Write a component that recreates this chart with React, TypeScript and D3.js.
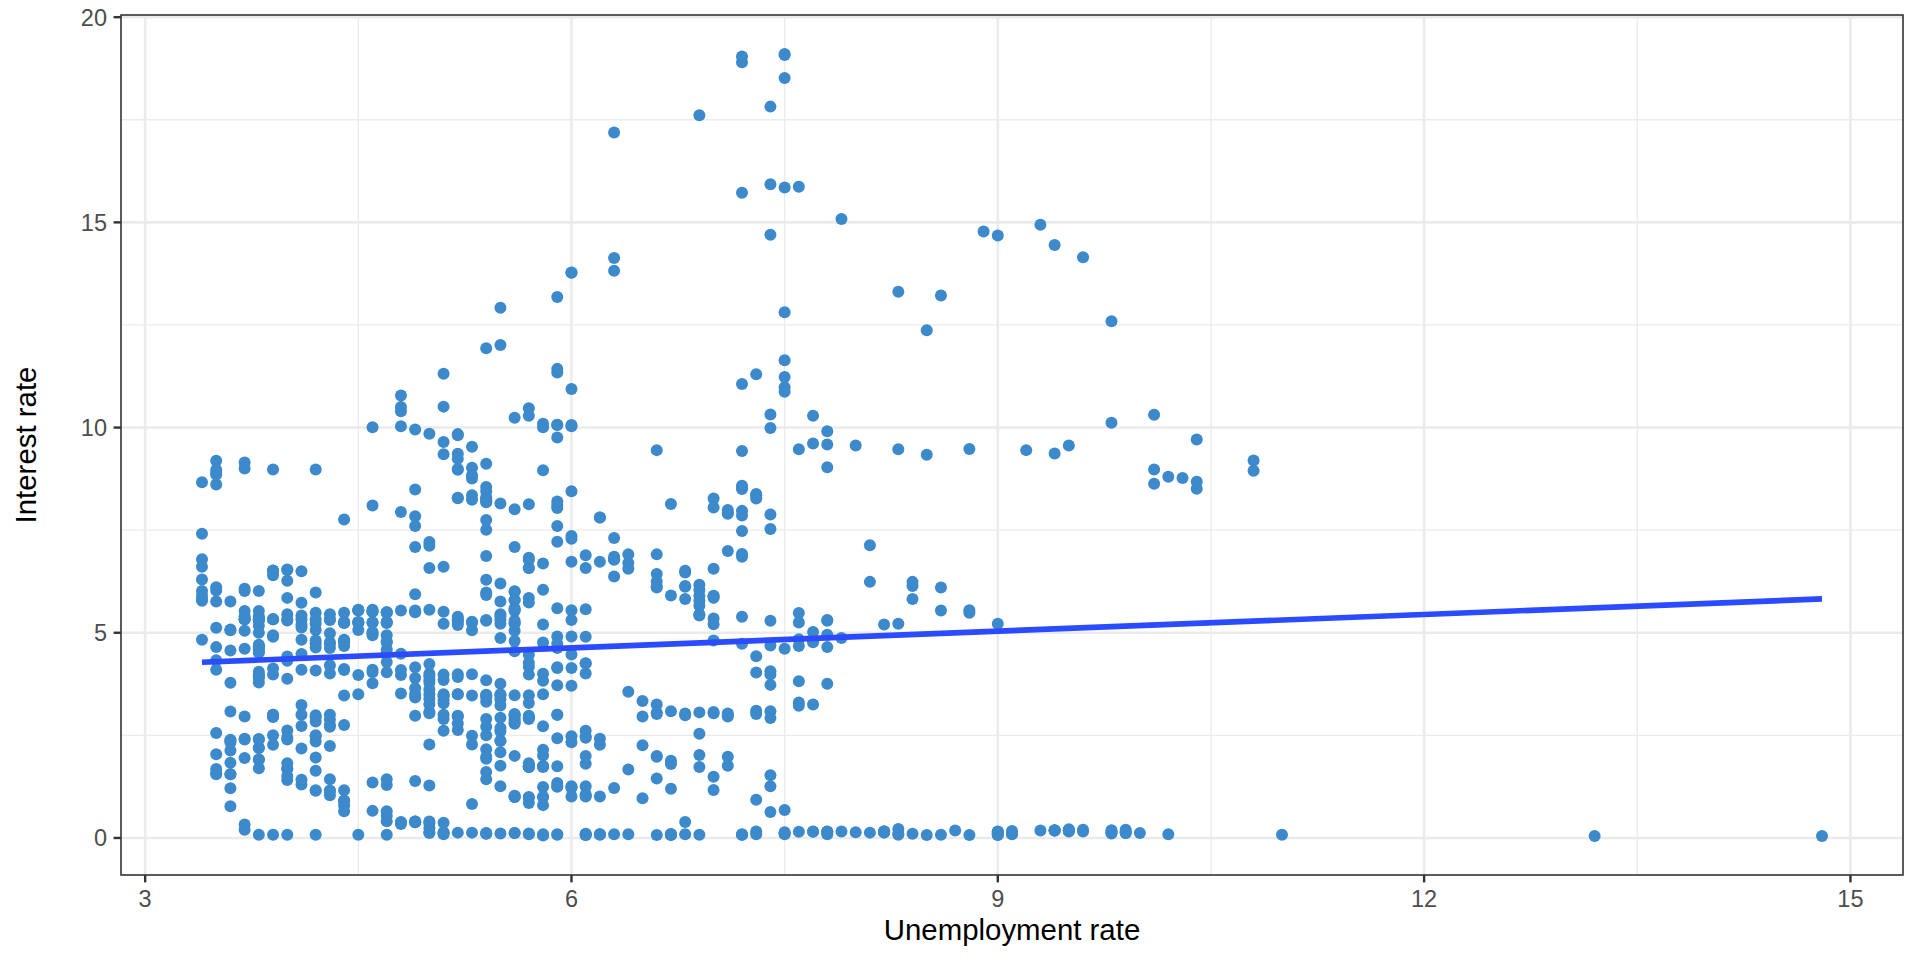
import React from 'react';
import * as d3 from 'd3';

// monthly readings, Jul 1954 onwards (one row per year)
const unemploymentRate = [
  5.8, 6.0, 6.1, 5.7, 5.3, 5.0,
  4.9, 4.7, 4.6, 4.7, 4.3, 4.2, 4.0, 4.2, 4.1, 4.3, 4.2, 4.2,
  4.0, 3.9, 4.2, 4.0, 4.3, 4.3, 4.4, 4.1, 3.9, 3.9, 4.3, 4.2,
  4.2, 3.9, 3.7, 3.9, 4.1, 4.3, 4.2, 4.1, 4.4, 4.5, 5.1, 5.2,
  5.8, 6.4, 6.7, 7.4, 7.4, 7.3, 7.5, 7.4, 7.1, 6.7, 6.2, 6.2,
  6.0, 5.9, 5.6, 5.2, 5.1, 5.0, 5.1, 5.2, 5.5, 5.7, 5.8, 5.3,
  5.2, 4.8, 5.4, 5.2, 5.1, 5.4, 5.5, 5.6, 5.5, 6.1, 6.1, 6.6,
  6.6, 6.9, 6.9, 7.0, 7.1, 6.9, 7.0, 6.6, 6.7, 6.5, 6.1, 6.0,
  5.8, 5.5, 5.6, 5.6, 5.5, 5.5, 5.4, 5.7, 5.6, 5.4, 5.7, 5.5,
  5.7, 5.9, 5.7, 5.7, 5.9, 5.6, 5.6, 5.4, 5.5, 5.5, 5.7, 5.5,
  5.6, 5.4, 5.4, 5.3, 5.1, 5.2, 4.9, 5.0, 5.1, 5.1, 4.8, 5.0,
  4.9, 5.1, 4.7, 4.8, 4.6, 4.6, 4.4, 4.4, 4.3, 4.2, 4.1, 4.0,
  4.0, 3.8, 3.8, 3.8, 3.9, 3.8, 3.8, 3.8, 3.7, 3.7, 3.6, 3.8,
  3.9, 3.8, 3.8, 3.8, 3.8, 3.9, 3.8, 3.8, 3.8, 4.0, 3.9, 3.8,
  3.7, 3.8, 3.7, 3.5, 3.5, 3.7, 3.7, 3.5, 3.4, 3.4, 3.4, 3.4,
  3.4, 3.4, 3.4, 3.4, 3.4, 3.5, 3.5, 3.5, 3.7, 3.7, 3.5, 3.5,
  3.9, 4.2, 4.4, 4.6, 4.8, 4.9, 5.0, 5.1, 5.4, 5.5, 5.9, 6.1,
  5.9, 5.9, 6.0, 5.9, 5.9, 5.9, 6.0, 6.1, 6.0, 5.8, 6.0, 6.0,
  5.8, 5.7, 5.8, 5.7, 5.7, 5.7, 5.6, 5.6, 5.5, 5.6, 5.3, 5.2,
  4.9, 5.0, 4.9, 5.0, 4.9, 4.9, 4.8, 4.8, 4.8, 4.6, 4.8, 4.9,
  5.1, 5.2, 5.1, 5.1, 5.1, 5.4, 5.5, 5.5, 5.9, 6.0, 6.6, 7.2,
  8.1, 8.1, 8.6, 8.8, 9.0, 8.8, 8.6, 8.4, 8.4, 8.4, 8.3, 8.2,
  7.9, 7.7, 7.6, 7.7, 7.4, 7.6, 7.8, 7.8, 7.6, 7.7, 7.8, 7.8,
  7.5, 7.6, 7.4, 7.2, 7.0, 7.2, 6.9, 7.0, 6.8, 6.8, 6.8, 6.4,
  6.4, 6.3, 6.3, 6.1, 6.0, 5.9, 6.2, 5.9, 6.0, 5.8, 5.9, 6.0,
  5.9, 5.9, 5.8, 5.8, 5.6, 5.7, 5.7, 6.0, 5.9, 6.0, 5.9, 6.0,
  6.3, 6.3, 6.3, 6.9, 7.5, 7.6, 7.8, 7.7, 7.5, 7.5, 7.5, 7.2,
  7.5, 7.4, 7.4, 7.2, 7.5, 7.5, 7.2, 7.4, 7.6, 7.9, 8.3, 8.5,
  8.6, 8.9, 9.0, 9.3, 9.4, 9.6, 9.8, 9.8, 10.1, 10.4, 10.8, 10.8,
  10.4, 10.4, 10.3, 10.2, 10.1, 10.1, 9.4, 9.5, 9.2, 8.8, 8.5, 8.3,
  8.0, 7.8, 7.8, 7.7, 7.4, 7.2, 7.5, 7.5, 7.3, 7.4, 7.2, 7.3,
  7.3, 7.2, 7.2, 7.3, 7.2, 7.4, 7.4, 7.1, 7.1, 7.1, 7.0, 7.0,
  6.7, 7.2, 7.2, 7.1, 7.2, 7.2, 7.0, 6.9, 7.0, 7.0, 6.9, 6.6,
  6.6, 6.6, 6.6, 6.3, 6.3, 6.2, 6.1, 6.0, 5.9, 6.0, 5.8, 5.7,
  5.7, 5.7, 5.7, 5.4, 5.6, 5.4, 5.4, 5.6, 5.4, 5.4, 5.3, 5.3,
  5.4, 5.2, 5.0, 5.2, 5.2, 5.3, 5.2, 5.2, 5.3, 5.3, 5.4, 5.4,
  5.4, 5.3, 5.2, 5.4, 5.4, 5.2, 5.5, 5.7, 5.9, 5.9, 6.2, 6.3,
  6.4, 6.6, 6.8, 6.7, 6.9, 6.9, 6.8, 6.9, 6.9, 7.0, 7.0, 7.3,
  7.3, 7.4, 7.4, 7.4, 7.6, 7.8, 7.7, 7.6, 7.6, 7.3, 7.4, 7.4,
  7.3, 7.1, 7.0, 7.1, 7.1, 7.0, 6.9, 6.8, 6.7, 6.8, 6.6, 6.5,
  6.6, 6.6, 6.5, 6.4, 6.1, 6.1, 6.1, 6.0, 5.9, 5.8, 5.6, 5.5,
  5.6, 5.4, 5.4, 5.8, 5.6, 5.6, 5.7, 5.7, 5.6, 5.5, 5.6, 5.6,
  5.6, 5.5, 5.5, 5.6, 5.6, 5.3, 5.5, 5.1, 5.2, 5.2, 5.4, 5.4,
  5.3, 5.2, 5.2, 5.1, 4.9, 5.0, 4.9, 4.8, 4.9, 4.7, 4.6, 4.7,
  4.6, 4.6, 4.7, 4.3, 4.4, 4.5, 4.5, 4.5, 4.6, 4.5, 4.4, 4.4,
  4.3, 4.4, 4.2, 4.3, 4.2, 4.3, 4.3, 4.2, 4.2, 4.1, 4.1, 4.0,
  4.0, 4.1, 4.0, 3.8, 4.0, 4.0, 4.0, 4.1, 3.9, 3.9, 3.9, 3.9,
  4.2, 4.2, 4.3, 4.4, 4.3, 4.5, 4.6, 4.9, 5.0, 5.3, 5.5, 5.7,
  5.7, 5.7, 5.7, 5.9, 5.8, 5.8, 5.8, 5.7, 5.7, 5.7, 5.9, 6.0,
  5.8, 5.9, 5.9, 6.0, 6.1, 6.3, 6.2, 6.1, 6.1, 6.0, 5.8, 5.7,
  5.7, 5.6, 5.8, 5.6, 5.6, 5.6, 5.5, 5.4, 5.4, 5.5, 5.4, 5.4,
  5.3, 5.4, 5.2, 5.2, 5.1, 5.0, 5.0, 4.9, 5.0, 5.0, 5.0, 4.9,
  4.7, 4.8, 4.7, 4.7, 4.6, 4.6, 4.7, 4.7, 4.5, 4.4, 4.5, 4.4,
  4.6, 4.5, 4.4, 4.5, 4.4, 4.6, 4.7, 4.6, 4.7, 4.7, 4.7, 5.0,
  5.0, 4.9, 5.1, 5.0, 5.4, 5.6, 5.8, 6.1, 6.1, 6.5, 6.8, 7.3,
  7.8, 8.3, 8.7, 9.0, 9.4, 9.5, 9.5, 9.6, 9.8, 10.0, 9.9, 9.9,
  9.8, 9.8, 9.9, 9.9, 9.6, 9.4, 9.4, 9.5, 9.5, 9.4, 9.8, 9.3,
  9.1, 9.0, 9.0, 9.1, 9.0, 9.1, 9.0, 9.0, 9.0, 8.8, 8.6, 8.5,
  8.3, 8.3, 8.2, 8.2, 8.2, 8.2, 8.2, 8.1, 7.8, 7.8, 7.7, 7.9,
  8.0, 7.7, 7.5, 7.6, 7.5, 7.5, 7.3, 7.2, 7.2, 7.2, 6.9, 6.7,
  6.6, 6.7, 6.7, 6.2, 6.3, 6.1, 6.2, 6.1, 5.9, 5.7, 5.8, 5.6,
  5.7, 5.5, 5.4, 5.4, 5.6, 5.3, 5.2, 5.1, 5.0, 5.0, 5.1, 5.0,
  4.8, 4.9, 5.0, 5.1, 4.8, 4.9, 4.8, 4.9, 5.0, 4.9, 4.7, 4.7,
  4.7, 4.6, 4.4, 4.4, 4.4, 4.3, 4.3, 4.4, 4.3, 4.2, 4.2, 4.1,
  4.0, 4.1, 4.0, 4.0, 3.8, 4.0, 3.8, 3.8, 3.7, 3.8, 3.8, 3.9,
  4.0, 3.8, 3.8, 3.7, 3.6, 3.6, 3.7, 3.6, 3.5, 3.6, 3.6, 3.6,
  3.5, 3.5, 4.4, 14.8, 13.2, 11.0, 10.2, 8.4, 7.8, 6.8, 6.7, 6.7,
  6.4, 6.2, 6.1, 6.1, 5.8, 5.9, 5.4, 5.1, 4.7, 4.5, 4.2, 3.9,
  4.0, 3.8, 3.7, 3.7, 3.6, 3.6, 3.5, 3.6, 3.5, 3.6, 3.6, 3.5,
  3.5, 3.6, 3.5, 3.4, 3.6, 3.6, 3.5, 3.8, 3.8, 3.8, 3.7, 3.7,
  3.7, 3.9, 3.9, 3.9, 4.0, 4.1, 4.3, 4.2, 4.1, 4.1, 4.2, 4.1,
];

const interestRate = [
  0.80, 1.22, 1.06, 0.85, 0.83, 1.28,
  1.39, 1.29, 1.35, 1.43, 1.43, 1.64, 1.68, 1.96, 2.18, 2.24, 2.35, 2.48,
  2.45, 2.50, 2.50, 2.62, 2.75, 2.71, 2.75, 2.73, 2.95, 2.96, 2.88, 2.94,
  2.84, 3.00, 2.96, 3.00, 3.00, 3.00, 2.99, 3.24, 3.47, 3.50, 3.28, 2.98,
  2.72, 1.67, 1.20, 1.26, 0.63, 0.93, 0.68, 1.53, 1.76, 1.80, 2.27, 2.42,
  2.48, 2.43, 2.80, 2.96, 2.90, 3.39, 3.47, 3.50, 3.76, 3.98, 4.00, 3.99,
  3.99, 3.97, 3.84, 3.92, 3.85, 3.32, 3.23, 2.98, 2.60, 2.47, 2.44, 1.98,
  1.45, 2.54, 2.02, 1.49, 1.98, 1.73, 1.17, 2.00, 1.88, 2.26, 2.61, 2.33,
  2.15, 2.37, 2.85, 2.78, 2.36, 2.68, 2.71, 2.93, 2.90, 2.90, 2.94, 2.93,
  2.92, 3.00, 2.98, 2.90, 3.00, 2.99, 3.02, 3.49, 3.48, 3.50, 3.48, 3.38,
  3.48, 3.48, 3.43, 3.47, 3.50, 3.50, 3.42, 3.50, 3.45, 3.36, 3.52, 3.85,
  3.90, 3.98, 4.04, 4.09, 4.10, 4.04, 4.09, 4.12, 4.01, 4.08, 4.10, 4.32,
  4.42, 4.60, 4.65, 4.67, 4.90, 5.17, 5.30, 5.53, 5.40, 5.53, 5.76, 5.40,
  4.94, 5.00, 4.53, 4.05, 3.94, 3.98, 3.79, 3.90, 3.99, 3.88, 4.13, 4.51,
  4.61, 4.71, 5.05, 5.76, 6.11, 6.07, 6.02, 6.03, 5.78, 5.91, 5.82, 6.02,
  6.30, 6.61, 6.79, 7.41, 8.67, 8.90, 8.61, 9.19, 9.15, 9.00, 8.85, 8.97,
  8.98, 8.98, 7.76, 8.10, 7.94, 7.60, 7.21, 6.61, 6.29, 6.20, 5.60, 4.90,
  4.14, 3.72, 3.71, 4.16, 4.63, 4.91, 5.31, 5.57, 5.55, 5.20, 4.91, 4.14,
  3.50, 3.29, 3.83, 4.17, 4.27, 4.46, 4.55, 4.80, 4.87, 5.05, 5.06, 5.33,
  5.94, 6.58, 7.09, 7.12, 7.84, 8.49, 10.40, 10.50, 10.78, 10.01, 10.03, 9.95,
  9.65, 8.97, 9.35, 10.51, 11.31, 11.93, 12.92, 12.01, 11.34, 10.06, 9.45, 8.53,
  7.13, 6.24, 5.54, 5.49, 5.22, 5.55, 6.10, 6.14, 6.24, 5.82, 5.22, 5.20,
  4.87, 4.77, 4.84, 4.82, 5.29, 5.48, 5.31, 5.29, 5.25, 5.02, 4.95, 4.65,
  4.61, 4.68, 4.69, 4.73, 5.35, 5.39, 5.42, 5.90, 6.14, 6.47, 6.51, 6.56,
  6.70, 6.78, 6.79, 6.89, 7.36, 7.60, 7.81, 8.04, 8.45, 8.96, 9.76, 10.03,
  10.07, 10.06, 10.09, 10.01, 10.24, 10.29, 10.47, 10.94, 11.43, 13.77, 13.18, 13.78,
  13.82, 14.13, 17.19, 17.61, 10.98, 9.47, 9.03, 9.61, 10.87, 12.81, 15.85, 18.90,
  19.08, 15.93, 14.70, 15.72, 18.52, 19.10, 19.04, 17.82, 15.87, 15.08, 13.31, 12.37,
  13.22, 14.78, 14.68, 14.94, 14.45, 14.15, 12.59, 10.12, 10.31, 9.71, 9.20, 8.95,
  8.68, 8.51, 8.77, 8.80, 8.63, 8.98, 9.37, 9.56, 9.45, 9.48, 9.34, 9.47,
  9.56, 9.59, 9.91, 10.29, 10.32, 11.06, 11.23, 11.64, 11.30, 9.99, 9.43, 8.38,
  8.35, 8.50, 8.58, 8.27, 7.97, 7.53, 7.88, 7.90, 7.92, 7.99, 8.05, 8.27,
  8.14, 7.86, 7.48, 6.99, 6.85, 6.92, 6.56, 6.17, 5.89, 5.85, 6.04, 6.91,
  6.43, 6.10, 6.13, 6.37, 6.85, 6.73, 6.58, 6.73, 7.22, 7.29, 6.69, 6.77,
  6.83, 6.58, 6.58, 6.87, 7.09, 7.51, 7.75, 8.01, 8.19, 8.30, 8.35, 8.76,
  9.12, 9.36, 9.85, 9.84, 9.81, 9.53, 9.24, 8.99, 9.02, 8.84, 8.55, 8.45,
  8.23, 8.24, 8.28, 8.26, 8.18, 8.29, 8.15, 8.13, 8.20, 8.11, 7.81, 7.31,
  6.91, 6.25, 6.12, 5.91, 5.78, 5.90, 5.82, 5.66, 5.45, 5.21, 4.81, 4.43,
  4.03, 4.06, 3.98, 3.73, 3.82, 3.76, 3.25, 3.30, 3.22, 3.10, 3.09, 2.92,
  3.02, 3.03, 3.07, 2.96, 3.00, 3.04, 3.06, 3.03, 3.09, 2.99, 3.02, 2.96,
  3.05, 3.25, 3.34, 3.56, 4.01, 4.25, 4.26, 4.47, 4.73, 4.76, 5.29, 5.45,
  5.53, 5.92, 5.98, 6.05, 6.01, 6.00, 5.85, 5.74, 5.80, 5.76, 5.80, 5.60,
  5.56, 5.22, 5.31, 5.22, 5.24, 5.27, 5.40, 5.22, 5.30, 5.24, 5.31, 5.29,
  5.25, 5.19, 5.39, 5.51, 5.50, 5.56, 5.52, 5.54, 5.54, 5.50, 5.52, 5.50,
  5.56, 5.51, 5.49, 5.45, 5.49, 5.56, 5.54, 5.55, 5.51, 5.07, 4.83, 4.68,
  4.63, 4.76, 4.81, 4.74, 4.74, 4.76, 4.99, 5.07, 5.22, 5.20, 5.42, 5.30,
  5.45, 5.73, 5.85, 6.02, 6.27, 6.53, 6.54, 6.50, 6.52, 6.51, 6.51, 6.40,
  5.98, 5.49, 5.31, 4.80, 4.21, 3.97, 3.77, 3.65, 3.07, 2.49, 2.09, 1.82,
  1.73, 1.74, 1.73, 1.75, 1.75, 1.75, 1.73, 1.74, 1.75, 1.75, 1.34, 1.24,
  1.24, 1.26, 1.25, 1.26, 1.26, 1.22, 1.01, 1.03, 1.01, 1.01, 1.00, 0.98,
  1.00, 1.01, 1.00, 1.00, 1.00, 1.03, 1.26, 1.43, 1.61, 1.76, 1.93, 2.16,
  2.28, 2.50, 2.63, 2.79, 3.00, 3.04, 3.26, 3.50, 3.62, 3.78, 4.00, 4.16,
  4.29, 4.49, 4.59, 4.79, 4.94, 4.99, 5.24, 5.25, 5.25, 5.25, 5.25, 5.24,
  5.25, 5.26, 5.26, 5.25, 5.25, 5.25, 5.26, 5.02, 4.94, 4.76, 4.49, 4.24,
  3.94, 2.98, 2.61, 2.28, 1.98, 2.00, 2.01, 2.00, 1.81, 0.97, 0.39, 0.16,
  0.15, 0.22, 0.18, 0.15, 0.18, 0.21, 0.16, 0.16, 0.15, 0.12, 0.12, 0.12,
  0.11, 0.13, 0.16, 0.20, 0.20, 0.18, 0.18, 0.19, 0.19, 0.19, 0.19, 0.18,
  0.17, 0.16, 0.14, 0.10, 0.09, 0.09, 0.07, 0.10, 0.08, 0.07, 0.08, 0.07,
  0.08, 0.10, 0.13, 0.14, 0.16, 0.16, 0.16, 0.13, 0.14, 0.16, 0.16, 0.16,
  0.14, 0.15, 0.14, 0.15, 0.11, 0.09, 0.09, 0.08, 0.08, 0.09, 0.08, 0.09,
  0.07, 0.07, 0.08, 0.09, 0.09, 0.10, 0.09, 0.09, 0.09, 0.09, 0.09, 0.12,
  0.11, 0.11, 0.11, 0.12, 0.12, 0.13, 0.13, 0.14, 0.14, 0.12, 0.12, 0.24,
  0.34, 0.38, 0.36, 0.37, 0.37, 0.38, 0.39, 0.40, 0.40, 0.40, 0.41, 0.54,
  0.65, 0.66, 0.79, 0.90, 0.91, 1.04, 1.15, 1.16, 1.15, 1.15, 1.16, 1.30,
  1.41, 1.42, 1.51, 1.69, 1.70, 1.82, 1.91, 1.91, 1.95, 2.19, 2.20, 2.27,
  2.40, 2.40, 2.41, 2.42, 2.39, 2.38, 2.40, 2.13, 2.04, 1.83, 1.55, 1.55,
  1.55, 1.58, 0.65, 0.05, 0.05, 0.08, 0.09, 0.10, 0.09, 0.09, 0.09, 0.09,
  0.09, 0.08, 0.07, 0.07, 0.06, 0.08, 0.10, 0.09, 0.08, 0.08, 0.08, 0.08,
  0.08, 0.08, 0.20, 0.33, 0.77, 1.21, 1.68, 2.33, 2.56, 3.08, 3.78, 4.10,
  4.33, 4.57, 4.65, 4.83, 5.06, 5.08, 5.12, 5.33, 5.33, 5.33, 5.33, 5.33,
  5.33, 5.33, 5.33, 5.33, 5.33, 5.33, 5.33, 5.33, 5.13, 4.83, 4.64, 4.48,
];

const xTicks = [3, 6, 9, 12, 15];
const yTicks = [0, 5, 10, 15, 20];
const xTitle = 'Unemployment rate';
const yTitle = 'Interest rate';

const W = 1920;
const H = 960;
const panel = { left: 121, right: 1903, top: 15, bottom: 875 };

const expand = (ext: [number, number]): [number, number] => {
  const pad = (ext[1] - ext[0]) * 0.05;
  return [ext[0] - pad, ext[1] + pad];
};

const App = () => {
  const points = unemploymentRate.map((u, i) => ({ x: u, y: interestRate[i] }));

  const x = d3
    .scaleLinear()
    .domain(expand(d3.extent(points, (d) => d.x) as [number, number]))
    .range([panel.left, panel.right]);
  const y = d3
    .scaleLinear()
    .domain(expand(d3.extent(points, (d) => d.y) as [number, number]))
    .range([panel.bottom, panel.top]);

  // ordinary least squares fit, like geom_smooth(method = "lm")
  const mx = d3.mean(points, (d) => d.x) as number;
  const my = d3.mean(points, (d) => d.y) as number;
  const sxy = d3.sum(points, (d) => (d.x - mx) * (d.y - my));
  const sxx = d3.sum(points, (d) => (d.x - mx) ** 2);
  const slope = sxy / sxx;
  const intercept = my - slope * mx;
  const [x0, x1] = d3.extent(points, (d) => d.x) as [number, number];
  const fit = d3
    .line<number>()
    .x((d) => x(d))
    .y((d) => y(intercept + slope * d))([x0, x1]);

  const [dx0, dx1] = x.domain();
  const [dy0, dy1] = y.domain();
  const xMinor = xTicks.slice(0, -1).map((t, i) => (t + xTicks[i + 1]) / 2).filter((t) => t > dx0 && t < dx1);
  const yMinor = yTicks.slice(0, -1).map((t, i) => (t + yTicks[i + 1]) / 2).filter((t) => t > dy0 && t < dy1);

  const font = '"Liberation Sans", Arial, Helvetica, sans-serif';
  const grid = '#EBEBEB';

  return (
    <svg width={W} height={H} style={{ position: 'absolute', left: 0, top: 0 }} fontFamily={font}>
      <rect width={W} height={H} fill="#ffffff" />

      {/* grid */}
      <g stroke={grid}>
        {xMinor.map((t) => (
          <line key={'xm' + t} x1={x(t)} x2={x(t)} y1={panel.top} y2={panel.bottom} strokeWidth={1.3} />
        ))}
        {yMinor.map((t) => (
          <line key={'ym' + t} y1={y(t)} y2={y(t)} x1={panel.left} x2={panel.right} strokeWidth={1.3} />
        ))}
        {xTicks.map((t) => (
          <line key={'xg' + t} x1={x(t)} x2={x(t)} y1={panel.top} y2={panel.bottom} strokeWidth={2.6} />
        ))}
        {yTicks.map((t) => (
          <line key={'yg' + t} y1={y(t)} y2={y(t)} x1={panel.left} x2={panel.right} strokeWidth={2.6} />
        ))}
      </g>

      {/* points */}
      <g fill="#3C89CB">
        {points.map((d, i) => (
          <circle key={i} cx={x(d.x)} cy={y(d.y)} r={6} />
        ))}
      </g>

      {/* fitted line */}
      <path d={fit ?? ''} fill="none" stroke="#2A4BFF" strokeWidth={5.7} />

      {/* panel border */}
      <rect
        x={panel.left}
        y={panel.top}
        width={panel.right - panel.left}
        height={panel.bottom - panel.top}
        fill="none"
        stroke="#333333"
        strokeWidth={1.6}
      />

      {/* x axis */}
      <g>
        {xTicks.map((t) => (
          <g key={'xt' + t}>
            <line x1={x(t)} x2={x(t)} y1={panel.bottom} y2={panel.bottom + 7.4} stroke="#333333" strokeWidth={2.4} />
            <text x={x(t)} y={907} textAnchor="middle" fontSize={23.5} fill="#4D4D4D">
              {t}
            </text>
          </g>
        ))}
        <text x={(panel.left + panel.right) / 2} y={940} textAnchor="middle" fontSize={29.4} fill="#000000">
          {xTitle}
        </text>
      </g>

      {/* y axis */}
      <g>
        {yTicks.map((t) => (
          <g key={'yt' + t}>
            <line x1={panel.left - 7.4} x2={panel.left} y1={y(t)} y2={y(t)} stroke="#333333" strokeWidth={2.4} />
            <text x={107} y={y(t) + 8.4} textAnchor="end" fontSize={23.5} fill="#4D4D4D">
              {t}
            </text>
          </g>
        ))}
        <text
          transform={`translate(36,${(panel.top + panel.bottom) / 2}) rotate(-90)`}
          textAnchor="middle"
          fontSize={29.4}
          fill="#000000"
        >
          {yTitle}
        </text>
      </g>
    </svg>
  );
};

export default App;
